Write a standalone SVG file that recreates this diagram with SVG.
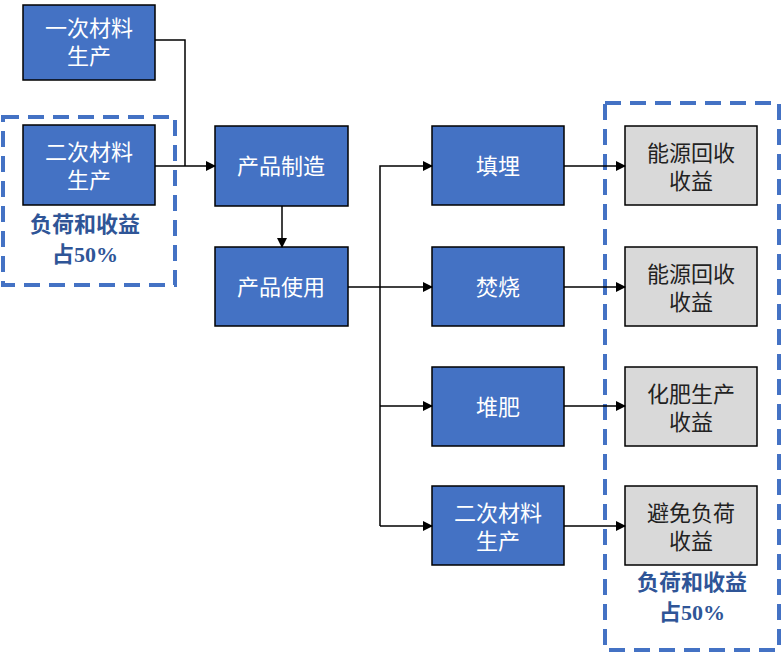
<svg xmlns="http://www.w3.org/2000/svg" width="782" height="653" viewBox="0 0 782 653">
<defs><marker id="ar" markerWidth="10" markerHeight="10" refX="9" refY="5" orient="auto" markerUnits="userSpaceOnUse"><path d="M0,0 L10,5 L0,10 z" fill="#000"/></marker></defs>
<style>
.b rect{fill:#4472C4;stroke:#000;stroke-width:1.5}
.g rect{fill:#D9D9D9;stroke:#000;stroke-width:1.5}
text{font-family:"Liberation Serif","Noto Sans CJK SC",serif;font-size:22px;text-anchor:middle}
.b text{fill:#fff}
.g text{fill:#222}
.dash{fill:none;stroke:#4472C4;stroke-width:4;stroke-dasharray:16,9}
.note{fill:#2F5597;font-weight:bold}
.c path{fill:none;stroke:#000;stroke-width:1.5}
</style>
<rect class="dash" x="3" y="117" width="172" height="168"/>
<rect class="dash" x="605" y="103" width="174" height="547"/>
<g id="n1" class="b"><rect x="23" y="5" width="132" height="75"/><text x="89" y="36">一次材料</text><text x="89" y="64">生产</text></g>
<g id="n2" class="b"><rect x="23" y="125" width="132" height="80"/><text x="89" y="160">二次材料</text><text x="89" y="188">生产</text></g>
<text class="note" x="85" y="232">负荷和收益</text><text class="note" x="85" y="262">占50%</text>
<g id="n3" class="b"><rect x="215" y="126" width="133" height="80"/><text x="281" y="174">产品制造</text></g>
<g id="n4" class="b"><rect x="215" y="247" width="133" height="79"/><text x="281" y="295">产品使用</text></g>
<g id="n5" class="b"><rect x="432" y="126" width="132" height="79"/><text x="498" y="174">填埋</text></g>
<g id="n6" class="b"><rect x="432" y="247" width="132" height="79"/><text x="498" y="295">焚烧</text></g>
<g id="n7" class="b"><rect x="432" y="367" width="132" height="79"/><text x="498" y="415">堆肥</text></g>
<g id="n8" class="b"><rect x="432" y="486" width="132" height="79"/><text x="498" y="521">二次材料</text><text x="498" y="549">生产</text></g>
<g id="g1" class="g"><rect x="625" y="126" width="132" height="79"/><text x="691" y="161">能源回收</text><text x="691" y="189">收益</text></g>
<g id="g2" class="g"><rect x="625" y="247" width="132" height="79"/><text x="691" y="282">能源回收</text><text x="691" y="310">收益</text></g>
<g id="g3" class="g"><rect x="625" y="367" width="132" height="79"/><text x="691" y="402">化肥生产</text><text x="691" y="430">收益</text></g>
<g id="g4" class="g"><rect x="625" y="486" width="132" height="79"/><text x="691" y="521">避免负荷</text><text x="691" y="549">收益</text></g>
<text class="note" x="692" y="590">负荷和收益</text><text class="note" x="692" y="620">占50%</text>
<g id="connectors" class="c">
<path d="M155,40 H185 V166"/>
<path d="M155,166 H215" marker-end="url(#ar)"/>
<path d="M282,206 V247" marker-end="url(#ar)"/>
<path d="M348,287 H432" marker-end="url(#ar)"/>
<path d="M380,526 V166 H432" marker-end="url(#ar)"/>
<path d="M380,406 H432" marker-end="url(#ar)"/>
<path d="M380,526 H432" marker-end="url(#ar)"/>
<path d="M564,166 H625" marker-end="url(#ar)"/>
<path d="M564,287 H625" marker-end="url(#ar)"/>
<path d="M564,406 H625" marker-end="url(#ar)"/>
<path d="M564,526 H625" marker-end="url(#ar)"/>
</g>
</svg>
